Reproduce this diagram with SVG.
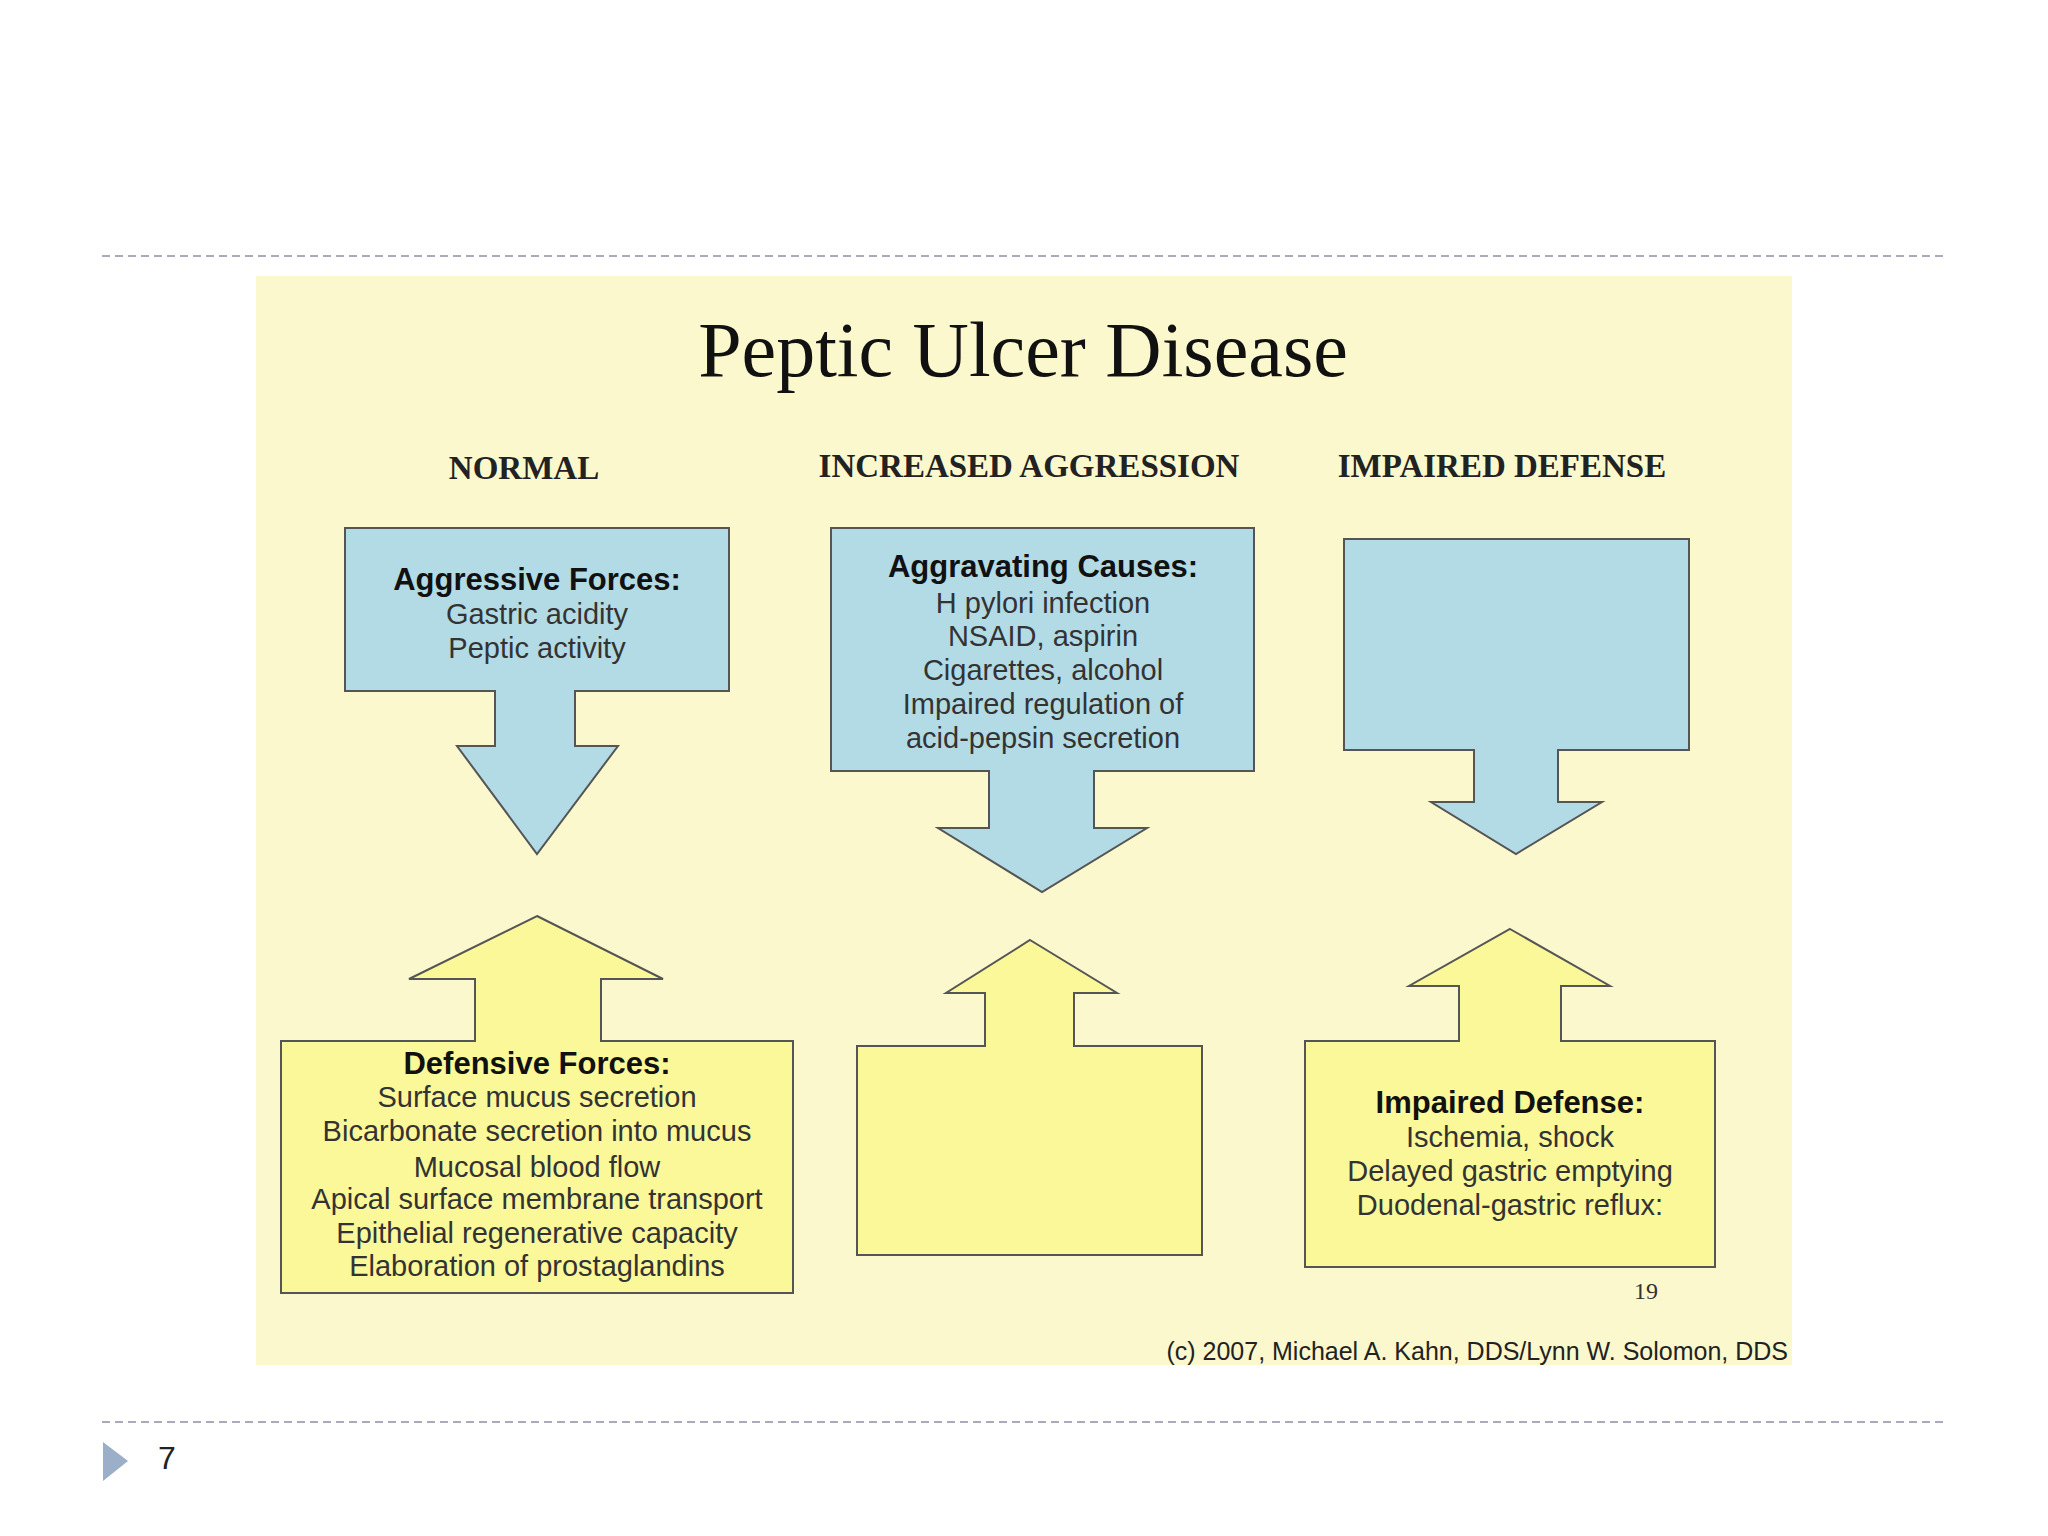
<svg xmlns="http://www.w3.org/2000/svg" width="2048" height="1536" viewBox="0 0 2048 1536">
<style>
.blue{fill:#b3dbe5;stroke:#555;stroke-width:2}
.yel{fill:#fbf89a;stroke:#555;stroke-width:2}
.hd{font-family:"Liberation Serif",serif;font-weight:bold;font-size:33px;text-anchor:middle;fill:#222}
.b{font-family:"Liberation Sans",sans-serif;font-weight:bold;font-size:31px;text-anchor:middle;fill:#111}
.t{font-family:"Liberation Sans",sans-serif;font-size:29px;text-anchor:middle;fill:#333}
</style>
<rect width="2048" height="1536" fill="#fff"/>
<line x1="102" y1="256" x2="1946" y2="256" stroke="#aab" stroke-width="2" stroke-dasharray="8,5"/>
<line x1="102" y1="1422" x2="1946" y2="1422" stroke="#aab" stroke-width="2" stroke-dasharray="8,5"/>
<rect x="256" y="276" width="1536" height="1089" fill="#fbf8cd"/>
<text x="1023" y="376" font-family="Liberation Serif,serif" font-size="78" text-anchor="middle" fill="#111">Peptic Ulcer Disease</text>
<text class="hd" x="524" y="479">NORMAL</text>
<text class="hd" x="1029" y="477">INCREASED AGGRESSION</text>
<text class="hd" x="1502" y="477">IMPAIRED DEFENSE</text>
<g id="agg1">
<path class="blue" d="M345,528H729V691H575V746H618L537,854L457,746H495V691H345Z"/>
<text class="b" x="537" y="590">Aggressive Forces:</text>
<text class="t" x="537" y="624">Gastric acidity</text>
<text class="t" x="537" y="658">Peptic activity</text>
</g>
<g id="agg2">
<path class="blue" d="M831,528H1254V771H1094V828H1147L1042,892L938,828H989V771H831Z"/>
<text class="b" x="1043" y="577">Aggravating Causes:</text>
<text class="t" x="1043" y="613">H pylori infection</text>
<text class="t" x="1043" y="646">NSAID, aspirin</text>
<text class="t" x="1043" y="680">Cigarettes, alcohol</text>
<text class="t" x="1043" y="714">Impaired regulation of</text>
<text class="t" x="1043" y="748">acid-pepsin secretion</text>
</g>
<g id="agg3">
<path class="blue" d="M1344,539H1689V750H1558V802H1602L1516,854L1431,802H1474V750H1344Z"/>
</g>
<g id="def1">
<path class="yel" d="M537,916L663,979H601V1041H793V1293H281V1041H475V979H409Z"/>
<text class="b" x="537" y="1074">Defensive Forces:</text>
<text class="t" x="537" y="1107">Surface mucus secretion</text>
<text class="t" x="537" y="1141">Bicarbonate secretion into mucus</text>
<text class="t" x="537" y="1177">Mucosal blood flow</text>
<text class="t" x="537" y="1209">Apical surface membrane transport</text>
<text class="t" x="537" y="1243">Epithelial regenerative capacity</text>
<text class="t" x="537" y="1276">Elaboration of prostaglandins</text>
</g>
<g id="def2">
<path class="yel" d="M1030,940L1117,993H1074V1046H1202V1255H857V1046H985V993H946Z"/>
</g>
<g id="def3">
<path class="yel" d="M1510,929L1610,986H1561V1041H1715V1267H1305V1041H1459V986H1409Z"/>
<text class="b" x="1510" y="1113">Impaired Defense:</text>
<text class="t" x="1510" y="1147">Ischemia, shock</text>
<text class="t" x="1510" y="1181">Delayed gastric emptying</text>
<text class="t" x="1510" y="1215">Duodenal-gastric reflux:</text>
</g>
<g id="connectors"/>
<text x="1646" y="1299" font-family="Liberation Serif,serif" font-size="24" text-anchor="middle" fill="#333">19</text>
<text x="1788" y="1360" font-family="Liberation Sans,sans-serif" font-size="25" text-anchor="end" fill="#222">(c) 2007, Michael A. Kahn, DDS/Lynn W. Solomon, DDS</text>
<path d="M103,1442L128,1461L103,1481Z" fill="#9bb0c8"/>
<text x="167" y="1469" font-family="Liberation Sans,sans-serif" font-size="32" text-anchor="middle" fill="#222">7</text>
</svg>
